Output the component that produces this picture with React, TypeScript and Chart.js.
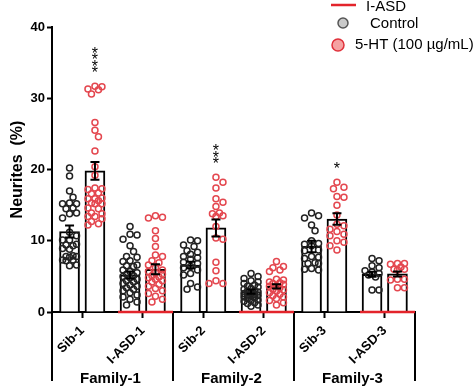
import React, { useEffect, useRef } from "react";
import { Chart, registerables } from "chart.js";

Chart.register(...registerables);

const FONT = "'Liberation Sans', Arial, sans-serif";

// ---------- data ----------
const categories = ["Sib-1", "I-ASD-1", "Sib-2", "I-ASD-2", "Sib-3", "I-ASD-3"];
const families = ["Family-1", "Family-2", "Family-3"];
const iasdIndex = [1, 3, 5];
const yMin = 0;
const yMax = 40;
const yStep = 10;

const controlMeans = [11.3, 5.2, 6.6, 2.85, 9.2, 5.3];
const controlSem = [0.85, 0.5, 0.45, 0.3, 0.8, 0.35];
const htMeans = [19.8, 6.0, 11.8, 3.6, 13.05, 5.35];
const htSem = [1.25, 0.7, 1.2, 0.3, 0.8, 0.35];
const significance = ["****", "", "***", "", "*", ""];

const sib1Control = [20.2, 19.1, 17.0, 16.1, 15.3, 15.2, 15.2, 14.6, 14.5, 13.9, 13.8, 13.2, 11.2, 10.7, 10.1, 10.1, 9.5, 9.4, 9.3, 8.9, 8.8, 7.9, 7.8, 7.8, 7.7, 7.3, 7.3, 7.2, 6.6, 6.5];
const sib1Ht = [31.7, 31.6, 31.3, 31.2, 30.6, 26.6, 25.5, 24.6, 22.6, 20.4, 19.2, 17.4, 17.3, 17.2, 16.7, 16.6, 16.0, 15.9, 15.9, 15.6, 15.3, 15.2, 15.2, 14.6, 14.5, 13.9, 13.8, 13.4, 13.4, 13.1, 12.7, 12.4, 12.2];
const iasd1Control = [12.0, 10.9, 10.8, 10.2, 9.3, 8.5, 7.8, 7.7, 7.2, 7.1, 6.6, 6.5, 6.4, 5.9, 5.7, 5.5, 5.3, 5.1, 5.0, 4.8, 4.6, 4.4, 4.2, 4.0, 3.8, 3.6, 3.4, 3.2, 3.0, 2.7, 2.4, 2.1, 1.8, 1.4, 1.0];
const iasd1Ht = [13.5, 13.3, 13.2, 11.4, 10.3, 9.2, 8.0, 7.8, 7.2, 6.9, 6.6, 6.2, 5.9, 5.7, 5.5, 5.3, 5.1, 4.9, 4.8, 4.6, 4.4, 4.2, 3.9, 3.6, 3.3, 3.0, 2.6, 2.2, 1.8, 1.4];
const sib2Control = [10.1, 10.0, 9.4, 9.2, 8.6, 8.4, 8.1, 7.8, 7.6, 7.4, 7.0, 6.8, 6.4, 6.2, 5.9, 5.4, 5.2, 4.0, 3.5, 3.2];
const sib2Ht = [18.9, 18.2, 17.4, 15.9, 15.4, 14.8, 13.9, 13.8, 13.5, 13.4, 12.0, 10.4, 10.2, 7.0, 5.8, 4.4, 4.0, 4.0];
const iasd2Control = [5.4, 5.0, 4.7, 4.4, 4.2, 4.0, 3.8, 3.6, 3.5, 3.3, 3.2, 3.0, 2.9, 2.8, 2.7, 2.6, 2.5, 2.4, 2.3, 2.2, 2.1, 2.0, 1.9, 1.7, 1.6, 1.5, 1.3, 1.2, 1.0, 0.8];
const iasd2Ht = [7.1, 6.4, 6.2, 5.9, 5.7, 4.6, 4.5, 4.2, 4.1, 4.0, 3.9, 3.7, 3.6, 3.4, 3.2, 3.1, 2.9, 2.7, 2.5, 2.3, 2.1, 1.9, 1.6, 1.3, 1.0];
const sib3Control = [13.9, 13.5, 13.2, 12.2, 11.4, 10.0, 9.6, 9.5, 9.3, 8.7, 8.6, 7.8, 7.7, 7.5, 6.9, 6.8, 6.8, 6.1, 6.0, 5.9];
const sib3Ht = [18.2, 17.5, 17.3, 16.2, 16.1, 15.0, 13.6, 12.3, 12.1, 11.6, 11.3, 10.9, 10.7, 10.0, 9.8, 9.3, 8.7];
const iasd3Control = [7.5, 7.2, 6.5, 6.2, 5.8, 5.6, 5.4, 5.2, 4.9, 3.1, 3.1];
const iasd3Ht = [6.8, 6.8, 6.7, 6.3, 6.0, 6.0, 5.9, 4.6, 4.6, 4.5, 3.4, 3.4];

const controlPoints = [sib1Control, iasd1Control, sib2Control, iasd2Control, sib3Control, iasd3Control];
const htPoints = [sib1Ht, iasd1Ht, sib2Ht, iasd2Ht, sib3Ht, iasd3Ht];

// ---------- layout constants ----------
const GROUP_SHIFT = 0.21; // bar centre offset from category centre (category units)
const BAR_PX = 20;
const PX_PER_UNIT = 285 / 40;
const PX_PER_CAT = 60.5;
const DOT = 6.6;
const RED = "#e3242b";
const PT_RED = "#e4474f";

// beeswarm-style horizontal spread (deterministic, from values)
function swarmOffsets(values: number[]): number[] {
  const idx = values.map((_, i) => i).sort((a, b) => values[b] - values[a]);
  const placed: { x: number; y: number }[] = [];
  const out = new Array(values.length).fill(0);
  const cands = [0, 3.5, -3.5, 7, -7];
  for (const i of idx) {
    const y = values[i] * PX_PER_UNIT;
    let best = 0;
    let bestScore = -1;
    for (const c of cands) {
      let minD = Infinity;
      for (const p of placed) {
        const d = Math.hypot(p.x - c, p.y - y);
        if (d < minD) minD = d;
      }
      if (minD >= DOT) {
        best = c;
        bestScore = Infinity;
        break;
      }
      if (minD > bestScore) {
        bestScore = minD;
        best = c;
      }
    }
    placed.push({ x: best, y });
    out[i] = best / PX_PER_CAT;
  }
  return out;
}

function buildPoints(groups: number[][], side: number) {
  const pts: { x: number; y: number }[] = [];
  groups.forEach((vals, i) => {
    const off = swarmOffsets(vals);
    vals.forEach((v, j) => pts.push({ x: i + side * GROUP_SHIFT + off[j], y: v }));
  });
  return pts;
}

function buildBars(means: number[], side: number) {
  return means.map((m, i) => ({ x: i + side * GROUP_SHIFT, y: m }));
}

const overlayPlugin = {
  id: "overlay",
  afterDatasetsDraw(chart: any) {
    const ctx = chart.ctx;
    const y = chart.scales.y;
    const means = [controlMeans, htMeans];
    const sems = [controlSem, htSem];
    ctx.save();
    ctx.strokeStyle = "#000";
    ctx.lineWidth = 2;
    [0, 1].forEach((d) => {
      const meta = chart.getDatasetMeta(d);
      meta.data.forEach((bar: any, i: number) => {
        const top = y.getPixelForValue(means[d][i] + sems[d][i]);
        const bot = y.getPixelForValue(means[d][i] - sems[d][i]);
        const x = bar.x;
        ctx.beginPath();
        ctx.moveTo(x, top);
        ctx.lineTo(x, bot);
        ctx.moveTo(x - 4.5, top);
        ctx.lineTo(x + 4.5, top);
        ctx.moveTo(x - 4.5, bot);
        ctx.lineTo(x + 4.5, bot);
        ctx.stroke();
      });
    });
    // significance stars
    const meta1 = chart.getDatasetMeta(1);
    ctx.fillStyle = "#000";
    ctx.font = `16px ${FONT}`;
    ctx.textAlign = "center";
    ctx.textBaseline = "alphabetic";
    const m = ctx.measureText("*");
    const asc = m.actualBoundingBoxAscent;
    const desc = m.actualBoundingBoxDescent;
    significance.forEach((s, i) => {
      if (!s) return;
      const x = meta1.data[i].x;
      const base = y.getPixelForValue(Math.max(...htPoints[i])) - 17;
      for (let k = 0; k < s.length; k++) {
        const cy = base - k * 6.5;
        ctx.fillText("*", x, cy + (asc - desc) / 2);
      }
    });
    ctx.restore();
  },
  afterDraw(chart: any) {
    const ctx = chart.ctx;
    const xs = chart.scales.x;
    const bottom = chart.chartArea.bottom;
    ctx.save();
    // family separators and labels
    ctx.strokeStyle = "#000";
    ctx.lineWidth = 2;
    const bounds = families.map((_, f) => f * 2 - 0.5).concat([families.length * 2 - 0.5]);
    bounds.forEach((b) => {
      const px = xs.getPixelForValue(b);
      ctx.beginPath();
      ctx.moveTo(px, bottom);
      ctx.lineTo(px, bottom + 69);
      ctx.stroke();
    });
    ctx.fillStyle = "#000";
    ctx.font = `bold 15px ${FONT}`;
    ctx.textAlign = "center";
    ctx.textBaseline = "alphabetic";
    families.forEach((f, k) => {
      ctx.fillText(f, xs.getPixelForValue(k * 2 + 0.5) - 2, bottom + 71);
    });
    // red I-ASD segments on the axis
    const meta0 = chart.getDatasetMeta(0);
    ctx.strokeStyle = RED;
    ctx.lineWidth = 2.5;
    iasdIndex.forEach((i) => {
      const bar = meta0.data[i];
      const x0 = bar.x - bar.width / 2 - 2;
      const x1 = xs.getPixelForValue(i + 0.5);
      ctx.beginPath();
      ctx.moveTo(x0, bottom);
      ctx.lineTo(x1, bottom);
      ctx.stroke();
    });
    // legend
    ctx.font = `15px ${FONT}`;
    ctx.textAlign = "left";
    ctx.textBaseline = "middle";
    ctx.fillStyle = "#000";
    ctx.beginPath();
    ctx.moveTo(331, 5);
    ctx.lineTo(356, 5);
    ctx.stroke();
    ctx.fillText("I-ASD", 366, 7);
    ctx.beginPath();
    ctx.arc(343, 23, 5, 0, Math.PI * 2);
    ctx.fillStyle = "#c9c9c9";
    ctx.fill();
    ctx.strokeStyle = "#555";
    ctx.lineWidth = 1.5;
    ctx.stroke();
    ctx.fillStyle = "#000";
    ctx.fillText("Control", 370, 24);
    ctx.beginPath();
    ctx.arc(338, 45, 6, 0, Math.PI * 2);
    ctx.fillStyle = "#f5a2a2";
    ctx.fill();
    ctx.strokeStyle = "#e0303a";
    ctx.lineWidth = 1.5;
    ctx.stroke();
    ctx.fillStyle = "#000";
    ctx.fillText("5-HT (100 µg/mL)", 355, 45);
    ctx.restore();
  },
};

export default function App() {
  const ref = useRef<HTMLCanvasElement | null>(null);
  useEffect(() => {
    document.body.style.margin = "0";
    if (!ref.current) return;
    Chart.defaults.font.family = FONT;
    const barStyle = {
      type: "bar",
      backgroundColor: "#fff",
      borderColor: "#000",
      borderWidth: 2,
      grouped: false,
      barThickness: BAR_PX,
      order: 3,
    };
    const chart = new Chart(ref.current, {
      type: "bar",
      data: {
        datasets: [
          { ...barStyle, label: "Control", data: buildBars(controlMeans, -1) } as any,
          { ...barStyle, label: "5-HT (100 µg/mL)", data: buildBars(htMeans, 1) } as any,
          {
            type: "scatter",
            label: "Control points",
            data: buildPoints(controlPoints, -1),
            pointRadius: 3,
            pointBorderWidth: 1.5,
            borderColor: "#222",
            pointBorderColor: "#222",
            pointBackgroundColor: "rgba(0,0,0,0)",
            order: 1,
          } as any,
          {
            type: "scatter",
            label: "5-HT points",
            data: buildPoints(htPoints, 1),
            pointRadius: 3,
            pointBorderWidth: 1.5,
            borderColor: PT_RED,
            pointBorderColor: PT_RED,
            pointBackgroundColor: "rgba(0,0,0,0)",
            order: 1,
          } as any,
        ],
      },
      options: {
        animation: false,
        responsive: true,
        maintainAspectRatio: false,
        layout: { padding: { top: 27, right: 59, left: 0, bottom: 0 } },
        plugins: { legend: { display: false }, tooltip: { enabled: false } },
        events: [],
        scales: {
          x: {
            type: "linear",
            min: -0.5,
            max: 5.5,
            offset: false,
            afterBuildTicks: (s: any) => {
              s.ticks = categories.map((_, i) => ({ value: i }));
            },
            afterFit: (s: any) => {
              s.height = 76;
            },
            grid: {
              display: true,
              drawOnChartArea: false,
              offset: false,
              tickLength: 6,
              tickWidth: 2,
              tickColor: "#000",
            },
            border: { display: true, color: "#000", width: 2 },
            ticks: {
              autoSkip: false,
              minRotation: 45,
              maxRotation: 45,
              padding: 5,
              color: "#000",
              font: { size: 13, weight: "bold" },
              callback: (v: any) => categories[Math.round(v)] ?? "",
            },
          },
          y: {
            type: "linear",
            min: yMin,
            max: yMax,
            afterFit: (s: any) => {
              s.width = 52;
            },
            grid: {
              display: true,
              drawOnChartArea: false,
              tickLength: 5,
              tickWidth: 2,
              tickColor: "#000",
            },
            border: { display: true, color: "#000", width: 2 },
            ticks: {
              stepSize: yStep,
              padding: 2,
              color: "#000",
              font: { size: 13, weight: "bold" },
            },
            title: {
              display: true,
              text: "Neurites  (%)",
              color: "#000",
              font: { size: 16, weight: "bold" },
              padding: { top: 8, bottom: 0 },
            },
          },
        },
      } as any,
      plugins: [overlayPlugin],
    });
    return () => chart.destroy();
  }, []);
  return (
    <div style={{ position: "relative", width: 474, height: 388 }}>
      <canvas ref={ref} />
    </div>
  );
}
